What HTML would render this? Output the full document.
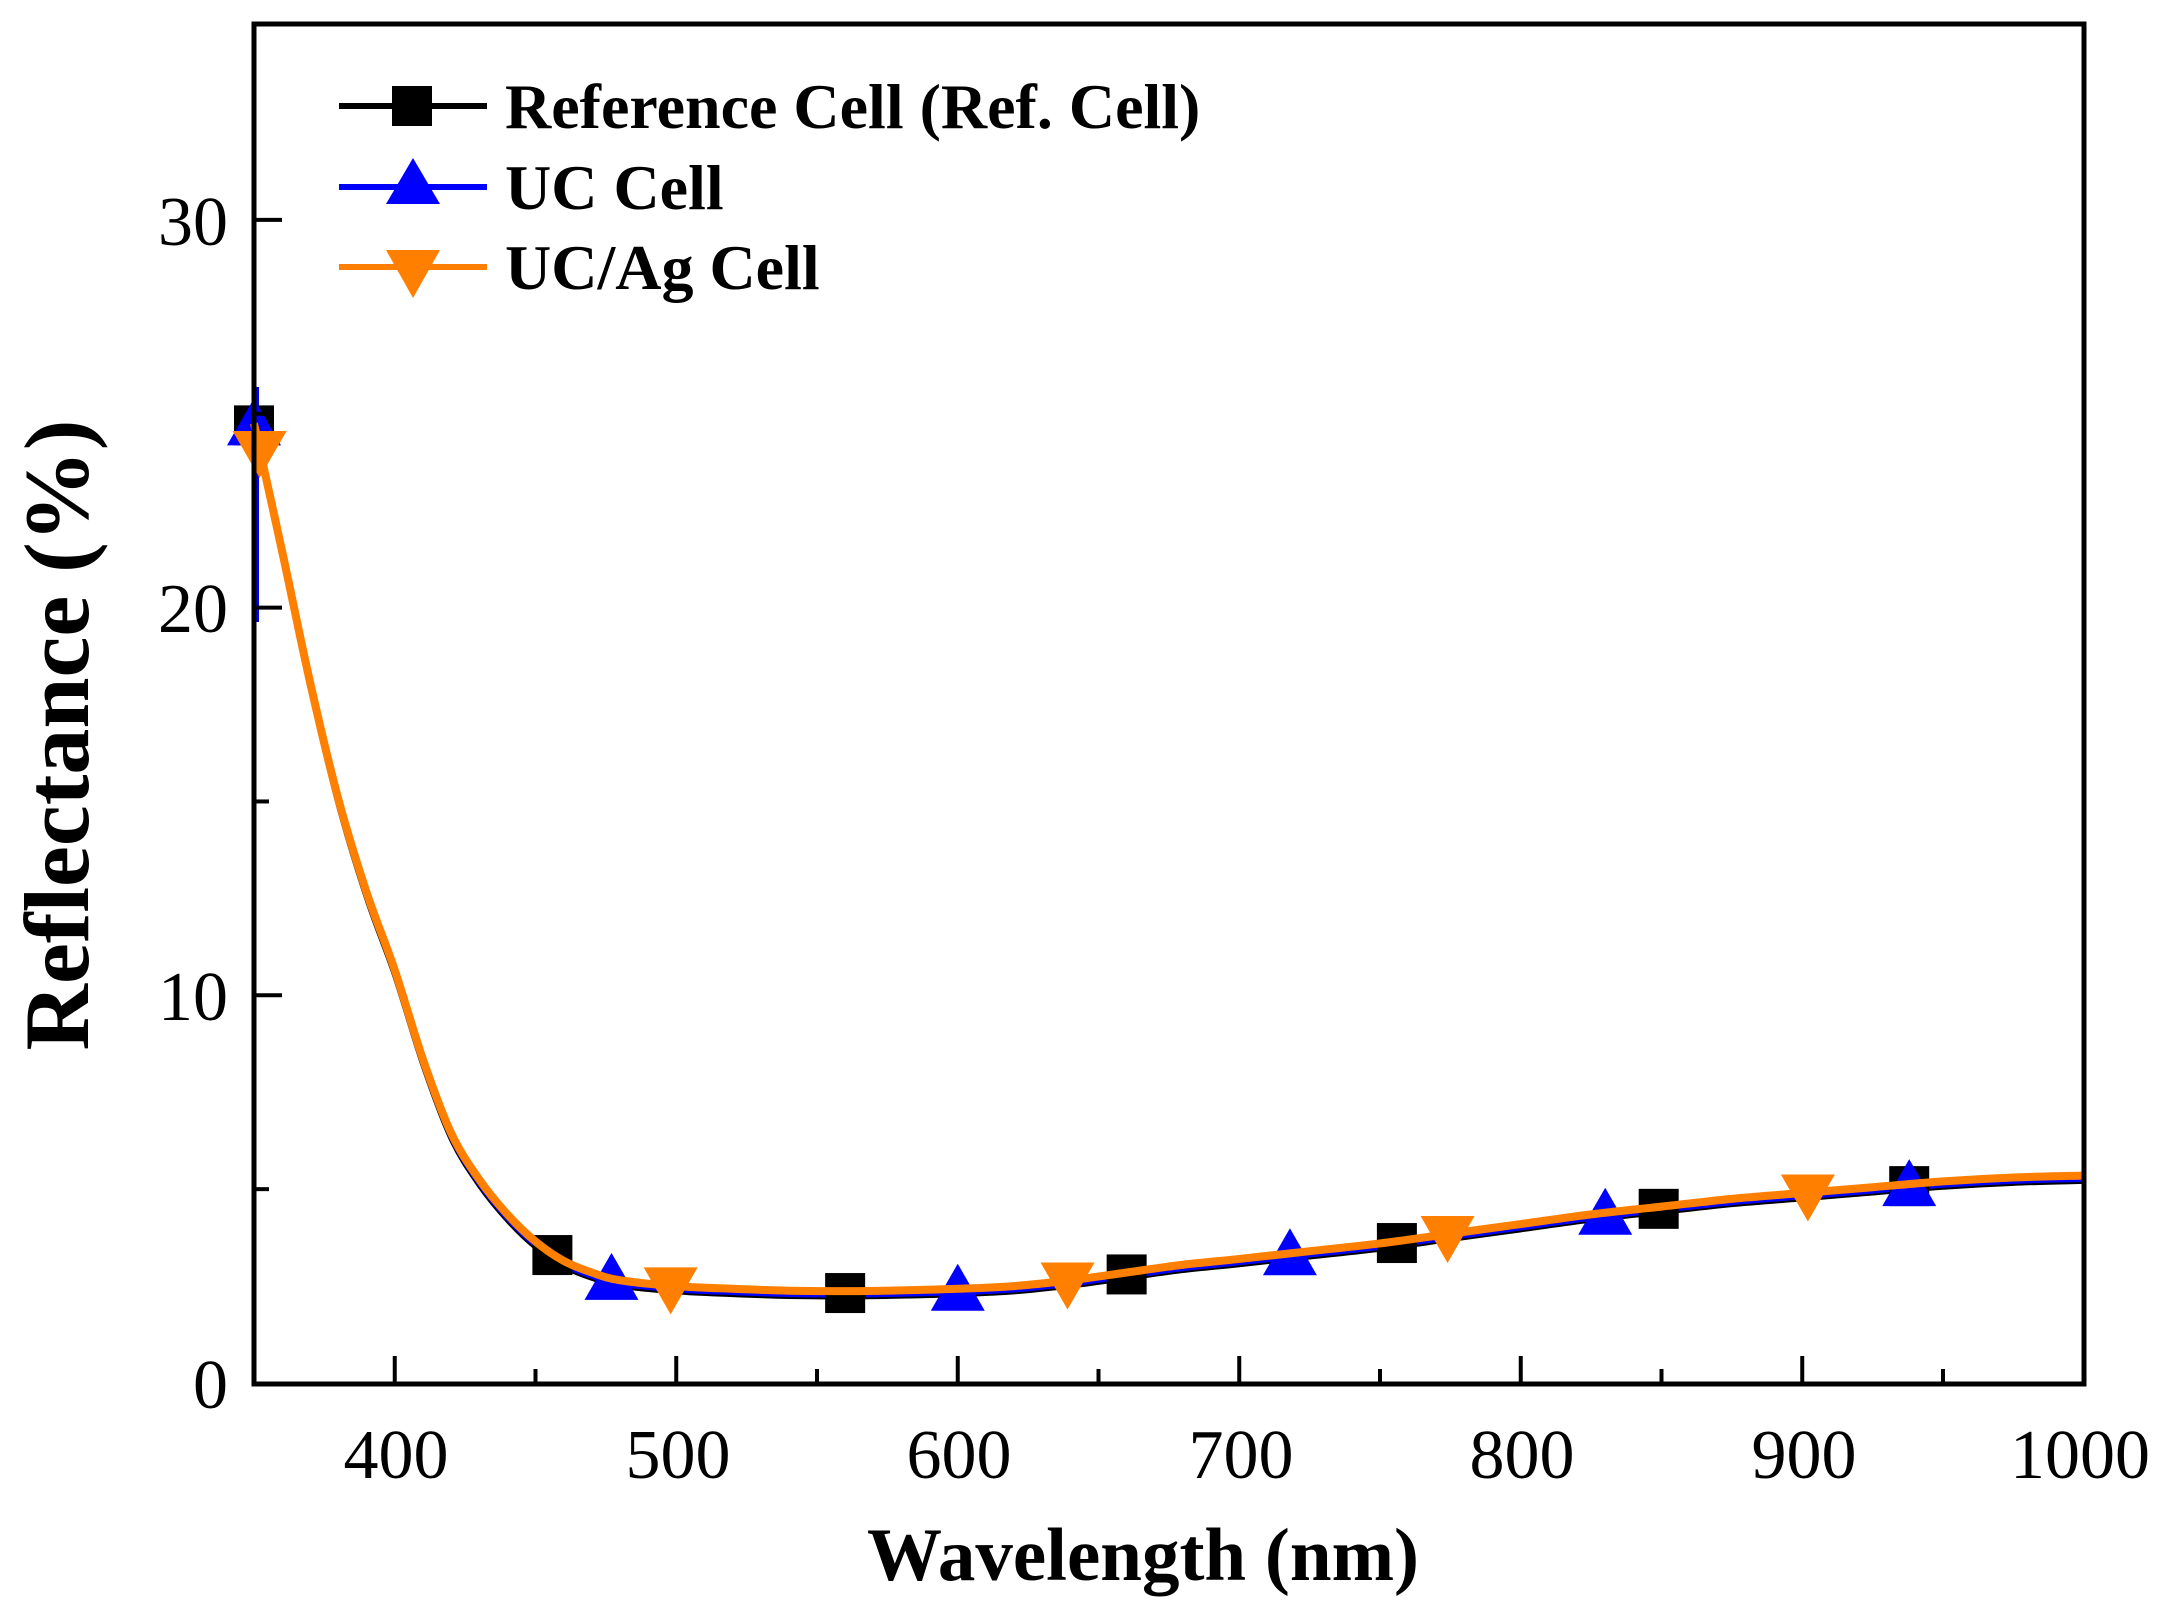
<!DOCTYPE html>
<html><head><meta charset="utf-8"><style>
html,body{margin:0;padding:0;background:#fff}
svg{display:block}
text{font-family:"Liberation Serif",serif}
</style></head><body>
<svg id="s" width="2168" height="1607" viewBox="0 0 2168 1607" xmlns="http://www.w3.org/2000/svg">
<g id="plot"></g>
<rect x="254" y="24" width="1830" height="1360" fill="none" stroke="#000" stroke-width="5"/>
<g id="ticks" stroke="#000" stroke-width="4"></g>
<g font-size="70" text-anchor="end">
<text x="228" y="1408">0</text>
<text x="228" y="1020">10</text>
<text x="228" y="632">20</text>
<text x="228" y="245">30</text>
</g>
<g font-size="70" text-anchor="middle">
<text x="396" y="1478">400</text><text x="678" y="1478">500</text><text x="959" y="1478">600</text>
<text x="1241" y="1478">700</text><text x="1522" y="1478">800</text><text x="1804" y="1478">900</text>
<text x="2080" y="1478">1000</text>
</g>
<text x="1143" y="1580" font-size="75" font-weight="bold" text-anchor="middle">Wavelength (nm)</text>
<text transform="translate(88,735) rotate(-90)" font-size="92" font-weight="bold" text-anchor="middle">Reflectance (%)</text>
<g font-size="64" font-weight="bold">
<line x1="339" y1="106" x2="487" y2="106" stroke="#000" stroke-width="6"/>
<rect x="392" y="86" width="40" height="40" fill="#000"/>
<text x="505" y="128">Reference Cell (Ref. Cell)</text>
<line x1="339" y1="187" x2="487" y2="187" stroke="#0000ff" stroke-width="6"/>
<polygon points="413,158 386,204 440,204" fill="#0000ff"/>
<text x="505" y="209">UC Cell</text>
<line x1="339" y1="267" x2="487" y2="267" stroke="#ff8000" stroke-width="6"/>
<polygon points="386,250 440,250 413,298" fill="#ff8000"/>
<text x="505" y="289">UC/Ag Cell</text>
</g>
</svg>
<script>
var NS="http://www.w3.org/2000/svg";
function X(l){return 254+(l-350)*2.815;}
function Y(r){return 1383-r*38.77;}
var data=[[350,24.7],[360,21.4],[370,18],[380,15],[390,12.6],[400,10.6],[410,8.3],[420,6.4],[430,5.2],[440,4.3],[450,3.6],[460,3.1],[470,2.8],[480,2.6],[500,2.45],[520,2.38],[540,2.33],[560,2.32],[580,2.34],[600,2.38],[620,2.45],[640,2.6],[660,2.8],[680,3.0],[700,3.15],[725,3.35],[750,3.55],[775,3.8],[800,4.05],[825,4.3],[850,4.5],[875,4.7],[900,4.85],[925,5.0],[950,5.15],[975,5.25],[1000,5.3]];
function f(l){for(var i=0;i<data.length-1;i++){if(l<=data[i+1][0]){var t=(l-data[i][0])/(data[i+1][0]-data[i][0]);return data[i][1]+t*(data[i+1][1]-data[i][1]);}}return 5.3;}
function path(off){
 var p=data.map(function(d){return [X(d[0]),Y(d[1]+off)];});
 var s="M"+p[0][0]+","+p[0][1];
 for(var i=0;i<p.length-1;i++){var p0=p[Math.max(0,i-1)],p1=p[i],p2=p[i+1],p3=p[Math.min(p.length-1,i+2)];
  s+=" C"+(p1[0]+(p2[0]-p0[0])/6)+","+(p1[1]+(p2[1]-p0[1])/6)+" "+(p2[0]-(p3[0]-p1[0])/6)+","+(p2[1]-(p3[1]-p1[1])/6)+" "+p2[0]+","+p2[1];}
 return s;}
var g=document.getElementById("plot");
function el(n,a){var e=document.createElementNS(NS,n);for(var k in a)e.setAttribute(k,a[k]);g.appendChild(e);return e;}
el("path",{d:path(-0.1),fill:"none",stroke:"#000","stroke-width":5});
el("path",{d:path(-0.05),fill:"none",stroke:"#0000ff","stroke-width":5});
el("line",{x1:256,y1:387,x2:256,y2:622,stroke:"#0000ff","stroke-width":6});
[350,456,560,660,756,849,938].forEach(function(l){var x=X(l),y=Y(f(l));el("rect",{x:x-20,y:y-20,width:40,height:40,fill:"#000"});});
[350,477,600,718,830,938].forEach(function(l){var x=X(l),y=Y(f(l));el("polygon",{points:(x)+","+(y-27)+" "+(x-27)+","+(y+20)+" "+(x+27)+","+(y+20),fill:"#0000ff"});});
el("path",{d:path(0.05),fill:"none",stroke:"#ff8000","stroke-width":8});
[352,498,639,774,902].forEach(function(l){var x=X(l),y=Y(f(l));el("polygon",{points:(x-27)+","+(y-20)+" "+(x+27)+","+(y-20)+" "+x+","+(y+27),fill:"#ff8000"});});
var t=document.getElementById("ticks");
function ln(a){var e=document.createElementNS(NS,"line");for(var k in a)e.setAttribute(k,a[k]);t.appendChild(e);}
for(var l=400;l<=1000;l+=50){var x=X(l),len=(l%100==0)?28:15;ln({x1:x,y1:1384,x2:x,y2:1384-len});}
for(var r=5;r<=30;r+=5){var y=Y(r),len=(r%10==0)?28:15;ln({x1:254,y1:y,x2:254+len,y2:y});}
</script>
</body></html>
